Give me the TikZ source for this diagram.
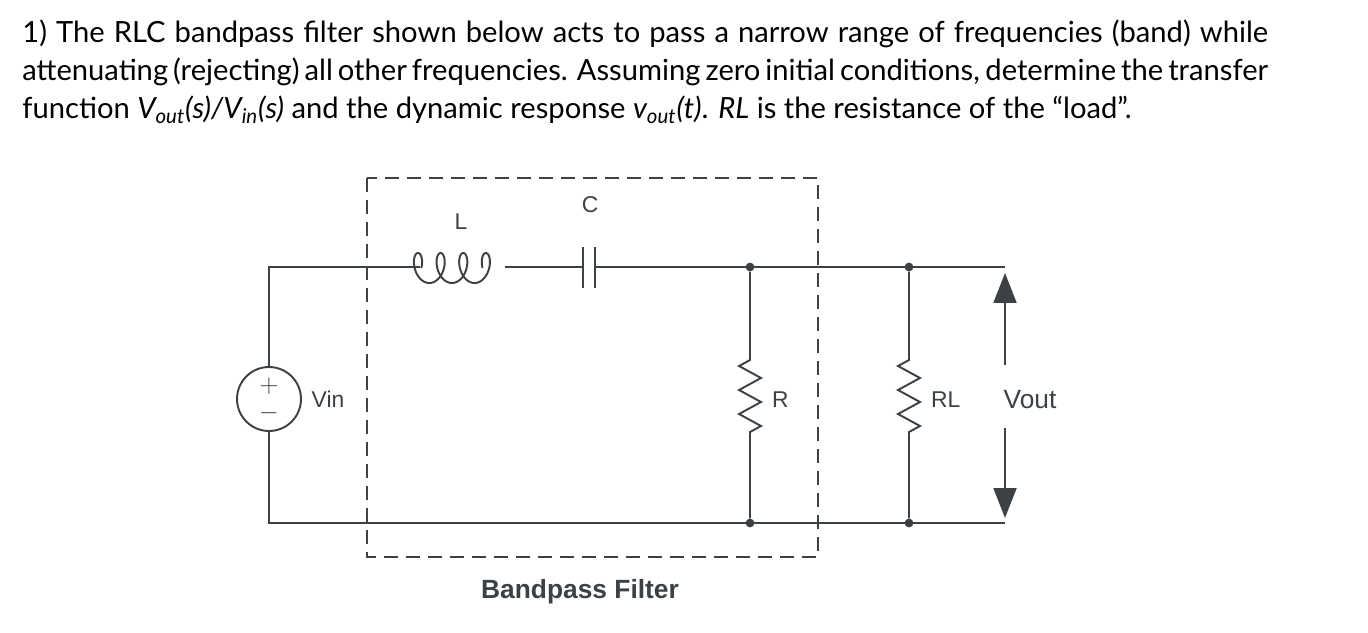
\documentclass[tikz,border=0pt]{standalone}
\usepackage{fontspec}
\setmainfont{Lato}
\newfontfamily\arialf{Liberation Sans}
\usetikzlibrary{arrows.meta,positioning}
\definecolor{wire}{HTML}{3C4146}
\tikzset{
        wire/.style={draw=wire, line width=1.1pt},
        lbl/.style={font=\arialf\fontsize{13}{15}\selectfont, text=wire},
        dot/.style={circle, fill=wire, inner sep=0pt, minimum size=5pt},
        box/.style={draw=wire, line width=0.9pt, dash pattern=on 0.28cm off 0.16cm}
}
\begin{document}
\begin{tikzpicture}[x=0.02cm, y=-0.02cm]
        \useasboundingbox (0, 0) rectangle (1368, 632);
        \node[anchor=north west, inner sep=0pt, text width=24.92cm, align=justify,
                font=\fontsize{16.6}{21.6}\selectfont, text=black] (prob) at (22, 20)
                {1) The RLC bandpass filter shown below acts to pass a narrow range of frequencies (band) while\linebreak
                attenuating (rejecting) all other frequencies. Assuming zero initial conditions, determine the transfer\linebreak
                function \textit{V\textsubscript{out}(s)/V\textsubscript{in}(s)} and the dynamic response \textit{v\textsubscript{out}(t)}. \textit{RL} is the resistance of the ``load''.};

        % dashed filter box
        \draw[box] (367, 178) rectangle (818, 557);
        \node[font=\arialf\bfseries\fontsize{15}{18}\selectfont, text=wire] (bpf) at (580, 592) {Bandpass Filter};

        % source
        \node[circle, draw=wire, line width=1.1pt, minimum size=1.28cm, inner sep=0pt] (vin) at (269, 399) {};
        \node[font=\fontsize{14}{14}\selectfont, text=wire, inner sep=0pt] at (269, 386) {$+$};
        \node[font=\fontsize{14}{14}\selectfont, text=wire, inner sep=0pt] at (269, 413) {$-$};
        \node[lbl, right=2pt of vin] (vinl) {Vin};

        \coordinate (tl) at (269, 267);
        \coordinate (bl) at (269, 523);
        \coordinate (lin) at (420, 267);
        \coordinate (lout) at (505, 267);
        \coordinate (ca) at (583, 267);
        \coordinate (cb) at (595, 267);
        \node[dot] (rt) at (750, 267) {};
        \node[dot] (rb) at (750, 523) {};
        \node[dot] (rlt) at (909, 267) {};
        \node[dot] (rlb) at (909, 523) {};
        \coordinate (tr) at (1005, 267);
        \coordinate (br) at (1005, 523);

        % wires
        \draw[wire] (vin.north) -- (tl) -- (lin);
        \draw[wire] (vin.south) -- (bl) -- (br);
        \draw[wire] (lout) -- (ca);
        \draw[wire] (cb) -- (tr);

        % inductor
        \draw[wire] plot[domain=-pi/2:6.5*pi, samples=240, variable=\t]
                ({418 + 3.6*\t - 9*sin(\t r)}, {268 - 15*cos(\t r)});
        \node[lbl] (ll) at (461, 222) {L};

        % capacitor
        \draw[wire] (583, 247) -- (583, 288);
        \draw[wire] (595, 247) -- (595, 288);
        \node[lbl] (cl) at (590, 205) {C};

        % resistors
        \foreach \n/\x/\t in {r/750/R, rl/909/RL} {
                \draw[wire] (\n t) -- (\x, 360) -- ++(-11, 6) -- ++(22, 12) -- ++(-22, 12)
                        -- ++(22, 12) -- ++(-22, 12) -- ++(22, 12) -- ++(-11, 6) -- (\n b);
                \node[lbl, anchor=west] (\n lab) at (\x+16, 400) {\t};
        }

        % output voltage
        \node[font=\arialf\fontsize{15}{18}\selectfont, text=wire] (vout) at (1030, 400) {Vout};
        \coordinate (vt) at (1005, 273);
        \coordinate (vb) at (1005, 518);
        \draw[wire, -{Triangle[length=0.6cm, width=0.46cm]}] (1005, 365) -- (vt);
        \draw[wire, -{Triangle[length=0.6cm, width=0.46cm]}] (1005, 428) -- (vb);
\end{tikzpicture}
\end{document}
